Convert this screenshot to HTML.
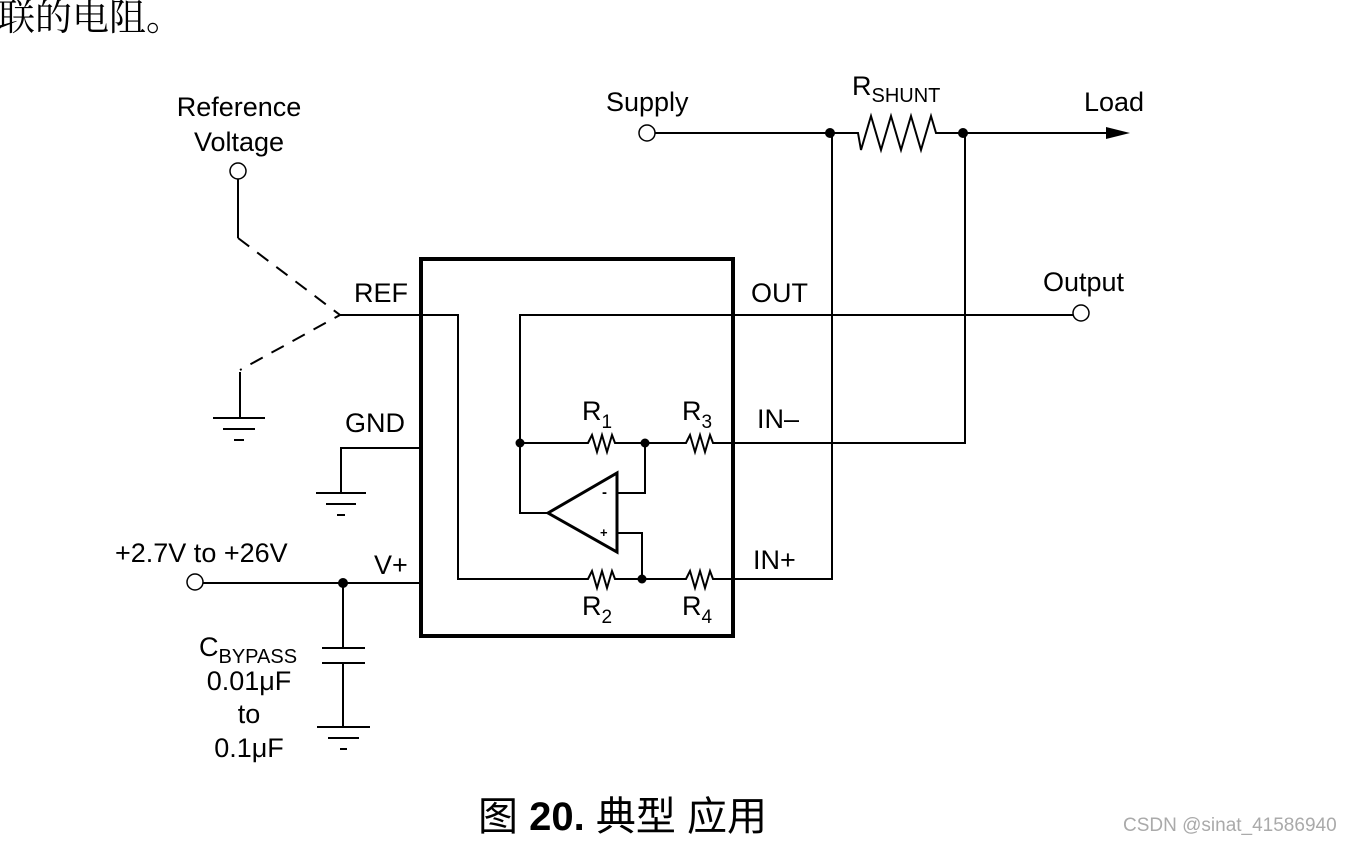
<!DOCTYPE html>
<html><head><meta charset="utf-8"><style>
html,body{margin:0;padding:0;background:#fff;}
svg{display:block;}
text{font-family:"Liberation Sans",Arial,sans-serif;fill:#000;}
.cjk{font-family:"Liberation Serif","Noto Serif CJK SC",serif;}
</style></head><body>
<svg width="1359" height="843" viewBox="0 0 1359 843" xmlns="http://www.w3.org/2000/svg">
<g fill="none" stroke="#000" stroke-width="2">
<rect x="421" y="259" width="312" height="377" stroke-width="4"/>
<line x1="238" y1="179" x2="238" y2="238"/>
<polyline points="238,238 340,315 240,370" stroke-dasharray="14,10"/>
<line x1="240" y1="372" x2="240" y2="418"/>
<line x1="213" y1="418" x2="265" y2="418"/>
<line x1="223" y1="429" x2="255" y2="429"/>
<line x1="234" y1="440" x2="244" y2="440"/>
<polyline points="340,315 458,315 458,579 585,579"/>
<polyline points="585,579 588,579 592,571 597,588 602,571 607,588 612,571 615,579 642,579"/>
<polyline points="642,579 683,579 686,579 690,571 695,588 700,571 705,588 710,571 713,579 832,579 832,133"/>
<polyline points="1073,315 520,315 520,513 548,513"/>
<polyline points="520,443 585,443 588,443 592,435 597,452 602,435 607,452 612,435 615,443 645,443"/>
<polyline points="645,443 683,443 686,443 690,435 695,452 700,435 705,452 710,435 713,443 965,443 965,133"/>
<polygon points="548,513 617,473 617,552" stroke-width="3"/>
<polyline points="617,493 645,493 645,443"/>
<polyline points="617,533 642,533 642,579"/>
<polyline points="421,448 341,448 341,493"/>
<line x1="316" y1="493" x2="366" y2="493"/>
<line x1="326" y1="504" x2="356" y2="504"/>
<line x1="337" y1="515" x2="345" y2="515"/>
<line x1="203" y1="583" x2="421" y2="583"/>
<line x1="343" y1="583" x2="343" y2="648"/>
<line x1="322" y1="648" x2="365" y2="648"/>
<line x1="322" y1="663" x2="365" y2="663"/>
<line x1="343" y1="663" x2="343" y2="727"/>
<line x1="317" y1="727" x2="370" y2="727"/>
<line x1="328" y1="738" x2="359" y2="738"/>
<line x1="340" y1="749" x2="347" y2="749"/>
<polyline points="655,133 858,133 861,150 871,116 881,150 891,116 901,150 911,116 921,150 931,116 936,133 1112,133"/>
</g>
<polygon points="1106,127 1130,133 1106,139" fill="#000"/>
<g fill="#fff" stroke="#000" stroke-width="1.5">
<circle cx="238" cy="171" r="8"/>
<circle cx="647" cy="133" r="8"/>
<circle cx="1081" cy="313" r="8"/>
<circle cx="195" cy="582" r="8"/>
</g>
<g fill="#000">
<circle cx="830" cy="133" r="5"/>
<circle cx="963" cy="133" r="5"/>
<circle cx="520" cy="443" r="4.5"/>
<circle cx="645" cy="443" r="4.5"/>
<circle cx="642" cy="579" r="4.5"/>
<circle cx="343" cy="583" r="5"/>
</g>
<text x="602" y="497" font-size="15" font-weight="bold">-</text>
<text x="600" y="537" font-size="13" font-weight="bold">+</text>
<g font-size="27">
<text x="239" y="116" text-anchor="middle">Reference</text>
<text x="239" y="151" text-anchor="middle">Voltage</text>
<text x="606" y="111">Supply</text>
<text x="852" y="95">R<tspan font-size="20" dy="7">SHUNT</tspan></text>
<text x="1084" y="111">Load</text>
<text x="1043" y="291">Output</text>
<text x="354" y="302">REF</text>
<text x="345" y="432">GND</text>
<text x="751" y="302">OUT</text>
<text x="757" y="428">IN–</text>
<text x="753" y="569">IN+</text>
<text x="374" y="574">V+</text>
<text x="115" y="562">+2.7V to +26V</text>
<text x="582" y="420">R<tspan font-size="19" dy="8">1</tspan></text>
<text x="682" y="420">R<tspan font-size="19" dy="8">3</tspan></text>
<text x="582" y="615">R<tspan font-size="19" dy="8">2</tspan></text>
<text x="682" y="615">R<tspan font-size="19" dy="8">4</tspan></text>
<text x="199" y="656">C<tspan font-size="20" dy="7">BYPASS</tspan></text>
<text x="249" y="690" text-anchor="middle">0.01μF</text>
<text x="249" y="723" text-anchor="middle">to</text>
<text x="249" y="757" text-anchor="middle">0.1μF</text>
</g>
<text x="-2" y="30" font-size="37" class="cjk">联的电阻。</text>
<text x="478" y="830" font-size="40" style="font-family:'Liberation Sans','Noto Sans CJK SC',sans-serif">图 <tspan font-weight="bold">20.</tspan>  典型 应用</text>
<text x="1123" y="831" font-size="19" style="fill:#aaa">CSDN @sinat_41586940</text>
</svg>
</body></html>
